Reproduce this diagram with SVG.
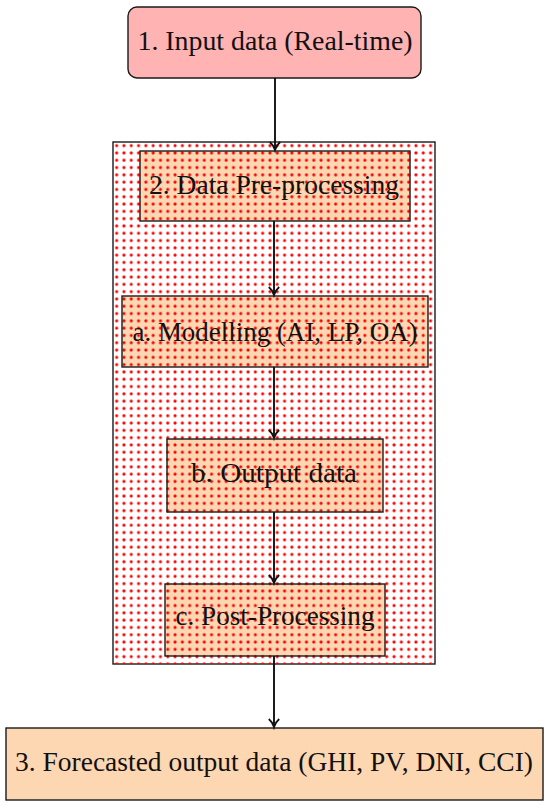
<svg xmlns="http://www.w3.org/2000/svg" width="550" height="809" viewBox="0 0 550 809">
<style>
.box{stroke:#1a1a1a;stroke-width:1.4}
.pink{fill:#ffb3b3}
.peach{fill:#fdd6b2}
.lbl{font-family:"Liberation Serif","DejaVu Serif",serif;font-size:27px;fill:#111;text-anchor:middle}
.conn{stroke:#111;stroke-width:1.9;fill:none}
</style>
<defs>
<pattern id="dots" patternUnits="userSpaceOnUse" x="113" y="142" width="7.3" height="7.3">
<circle cx="3.65" cy="3.65" r="1.55" fill="#ff0000"/>
</pattern>
<marker id="arr" markerWidth="14" markerHeight="12" refX="11" refY="6" orient="auto" markerUnits="userSpaceOnUse">
<path d="M3,0.8 Q6.5,4.8 11,6 Q6.5,7.2 3,11.2" fill="none" stroke="#111" stroke-width="1.8"/>
</marker>
</defs>
<g id="input">
<rect class="box pink" x="128" y="7" width="293" height="71" rx="9"/>
<text class="lbl" x="275" y="50" textLength="275" lengthAdjust="spacingAndGlyphs">1. Input data (Real-time)</text>
</g>
<g id="container">
<rect class="box" x="113" y="142" width="322" height="522" fill="#ffffff"/>
<rect x="140" y="151" width="270" height="70" class="peach"/>
<rect x="122" y="296" width="306" height="71" class="peach"/>
<rect x="167" y="439" width="216" height="73" class="peach"/>
<rect x="165" y="584" width="220" height="72" class="peach"/>
<rect x="113" y="142" width="322" height="522" fill="url(#dots)"/>
</g>
<g id="preprocessing">
<rect class="box" x="140" y="151" width="270" height="70" fill="none"/>
<text class="lbl" x="274" y="194" textLength="250" lengthAdjust="spacingAndGlyphs">2. Data Pre-processing</text>
</g>
<g id="modelling">
<rect class="box" x="122" y="296" width="306" height="71" fill="none"/>
<text class="lbl" x="275" y="341" textLength="285" lengthAdjust="spacingAndGlyphs">a. Modelling (AI, LP, OA)</text>
</g>
<g id="output">
<rect class="box" x="167" y="439" width="216" height="73" fill="none"/>
<text class="lbl" x="274" y="482" textLength="166" lengthAdjust="spacingAndGlyphs">b. Output data</text>
</g>
<g id="postprocessing">
<rect class="box" x="165" y="584" width="220" height="72" fill="none"/>
<text class="lbl" x="275" y="625" textLength="199" lengthAdjust="spacingAndGlyphs">c. Post-Processing</text>
</g>
<g id="forecast">
<rect class="box peach" x="6" y="728" width="537" height="72"/>
<text class="lbl" x="274" y="771" textLength="518" lengthAdjust="spacingAndGlyphs">3. Forecasted output data (GHI, PV, DNI, CCI)</text>
</g>
<g id="connectors">
<line class="conn" x1="275" y1="78" x2="275" y2="150" marker-end="url(#arr)"/>
<line class="conn" x1="274" y1="221" x2="274" y2="295" marker-end="url(#arr)"/>
<line class="conn" x1="274" y1="367" x2="274" y2="438" marker-end="url(#arr)"/>
<line class="conn" x1="274" y1="512" x2="274" y2="583" marker-end="url(#arr)"/>
<line class="conn" x1="274" y1="656" x2="274" y2="727" marker-end="url(#arr)"/>
</g>
</svg>
